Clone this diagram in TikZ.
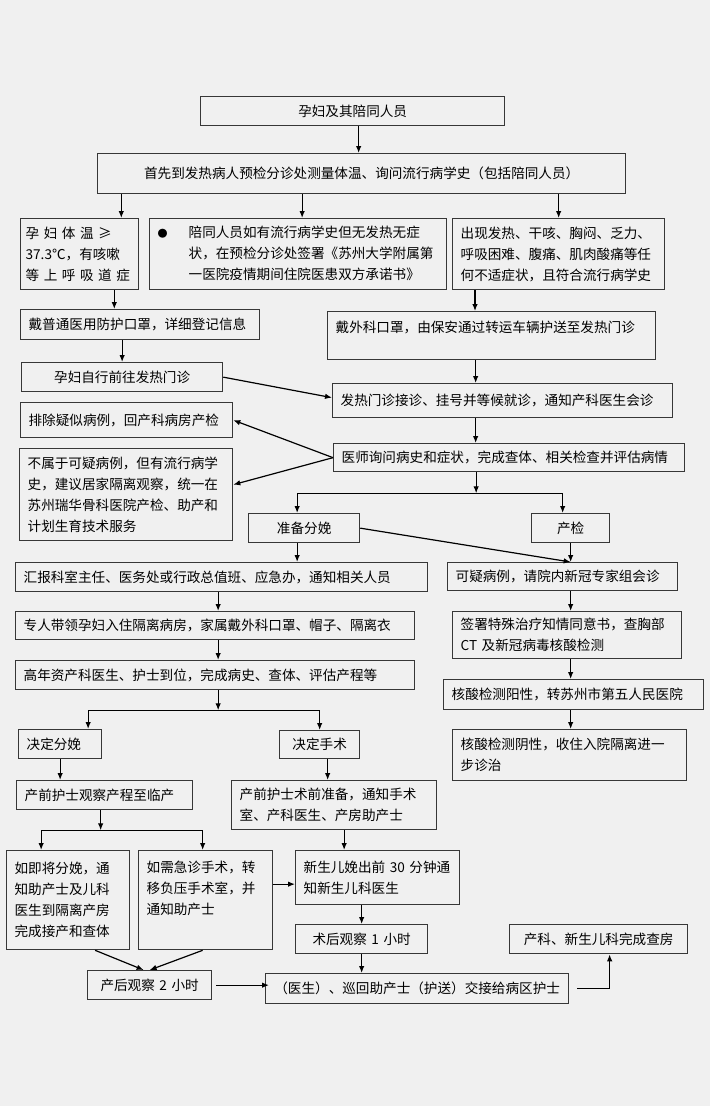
\documentclass[tikz,border=0pt]{standalone}
\usepackage{fontspec}
\setmainfont{Noto Sans CJK SC}
\usetikzlibrary{arrows.meta}

\definecolor{pagegray}{RGB}{240,240,240}
\definecolor{boxline}{RGB}{55,55,55}

\tikzstyle{stage}=[draw=boxline,line width=1.3pt,rectangle,anchor=north west,inner xsep=8pt,inner ysep=3pt,align=left]
\tikzstyle{flow}=[->,line width=1.2pt]

\begin{document}
\begin{tikzpicture}[x=1pt,y=-1pt,>={Latex[length=7pt,width=5.5pt]},
    every node/.style={font=\fontsize{13.6pt}{21pt}\selectfont}]
  \fill[pagegray] (0,0) rectangle (710,1106);

  \node (start)[stage,align=center,text width=288,minimum height=29] at (200,96) {孕妇及其陪同人员};
  \node (triage)[stage,align=center,text width=512,minimum height=40] at (97,153) {首先到发热病人预检分诊处测量体温、询问流行病学史（包括陪同人员）};
  \node (fever)[stage,inner xsep=5pt,text width=108,minimum height=71] at (20,218)
    {\makebox[\linewidth][s]{孕 妇 体 温 ≥}\\37.3℃，有咳嗽\\\makebox[\linewidth][s]{等 上 呼 吸 道 症}};
  \node (companion)[stage,text width=281,minimum height=71] at (149,218)
    {\begin{tabular}{@{}p{31pt}@{}l@{}}
      {\fontsize{10pt}{21pt}\selectfont ●} & 陪同人员如有流行病学史但无发热无症\\
        & 状，在预检分诊处签署《苏州大学附属第\\
        & 一医院疫情期间住院医患双方承诺书》
    \end{tabular}};
  \node (symptom)[stage,text width=196,minimum height=71] at (452,218)
    {出现发热、干咳、胸闷、乏力、\\呼吸困难、腹痛、肌肉酸痛等任\\何不适症状，且符合流行病学史};
  \node (mask)[stage,text width=223,minimum height=30] at (20,309) {戴普通医用防护口罩，详细登记信息};
  \node (surgmask)[stage,text width=312,minimum height=48,text depth=17] at (327,311) {戴外科口罩，由保安通过转运车辆护送至发热门诊};
  \node (self)[stage,align=center,text width=185,minimum height=29] at (21,362) {孕妇自行前往发热门诊};
  \node (clinic)[stage,text width=324,minimum height=34] at (332,383) {发热门诊接诊、挂号并等候就诊，通知产科医生会诊};
  \node (exclude)[stage,text width=196,minimum height=35] at (20,402) {排除疑似病例，回产科病房产检};
  \node (doctor)[stage,text width=335,minimum height=28] at (333,443) {医师询问病史和症状，完成查体、相关检查并评估病情};
  \node (home)[stage,text width=197,minimum height=92] at (19,448)
    {不属于可疑病例，但有流行病学\\史，建议居家隔离观察，统一在\\苏州瑞华骨科医院产检、助产和\\计划生育技术服务};
  \node (deliver)[stage,align=center,text width=95,minimum height=29] at (248,513) {准备分娩};
  \node (check)[stage,align=center,text width=62,minimum height=29] at (531,513) {产检};
  \node (report)[stage,text width=396,minimum height=29] at (15,562) {汇报科室主任、医务处或行政总值班、应急办，通知相关人员};
  \node (suspect)[stage,text width=214,minimum height=28] at (447,562) {可疑病例，请院内新冠专家组会诊};
  \node (isolate)[stage,text width=383,minimum height=28] at (15,611) {专人带领孕妇入住隔离病房，家属戴外科口罩、帽子、隔离衣};
  \node (consent)[stage,text width=213,minimum height=47] at (452,611) {签署特殊治疗知情同意书，查胸部\\CT 及新冠病毒核酸检测};
  \node (senior)[stage,text width=383,minimum height=29] at (15,660) {高年资产科医生、护士到位，完成病史、查体、评估产程等};
  \node (positive)[stage,text width=244,minimum height=30] at (443,679) {核酸检测阳性，转苏州市第五人民医院};
  \node (labour)[stage,text width=67,minimum height=29] at (18,729) {决定分娩};
  \node (surgery)[stage,align=center,text width=64,minimum height=28] at (279,730) {决定手术};
  \node (negative)[stage,text width=218,minimum height=51] at (452,729) {核酸检测阴性，收住入院隔离进一\\步诊治};
  \node (watch)[stage,text width=160,minimum height=29] at (16,780) {产前护士观察产程至临产};
  \node (preop)[stage,text width=189,minimum height=49] at (231,780) {产前护士术前准备，通知手术\\室、产科医生、产房助产士};
  \node (imminent)[stage,text width=107,minimum height=99] at (6,850)
    {如即将分娩，通\\知助产士及儿科\\医生到隔离产房\\完成接产和查体};
  \node (emergency)[stage,text width=118,minimum height=99,text depth=66] at (138,850)
    {如需急诊手术，转\\移负压手术室，并\\通知助产士};
  \node (neonate)[stage,text width=148,minimum height=54] at (295,850) {新生儿娩出前 30 分钟通\\知新生儿科医生};
  \node (postop)[stage,align=center,text width=116,minimum height=29] at (295,924) {术后观察 1 小时};
  \node (round)[stage,align=center,text width=162,minimum height=29] at (509,924) {产科、新生儿科完成查房};
  \node (postpartum)[stage,align=center,text width=108,minimum height=29] at (87,970) {产后观察 2 小时};
  \node (handover)[stage,align=center,inner xsep=6pt,text width=291,minimum height=30] at (265,973) {（医生）、巡回助产士（护送）交接给病区护士};

  \draw[flow] ([xshift=6pt]start.south) -- ([xshift=6pt]start.south |- triage.north);
  \draw[flow] ([xshift=-18pt]fever.north east |- triage.south) -- ([xshift=-18pt]fever.north east);
  \draw[flow] ([xshift=4pt]companion.north |- triage.south) -- ([xshift=4pt]companion.north);
  \draw[flow] (symptom.north |- triage.south) -- (symptom.north);
  \draw[flow] ([xshift=-25pt]fever.south east) -- ([xshift=-25pt]fever.south east |- mask.north);
  \draw[flow] ([xshift=23pt]symptom.south west) -- ([xshift=23pt]symptom.south west |- surgmask.north);
  \draw[flow] (self.north |- mask.south) -- (self.north);
  \draw[flow] ([xshift=-27pt]clinic.north |- surgmask.south) -- ([xshift=-27pt]clinic.north);
  \draw[flow] (self.east) -- ([yshift=3pt]clinic.west);
  \draw[flow] ([xshift=-27pt]clinic.south) -- ([xshift=-27pt]clinic.south |- doctor.north);
  \draw[flow] (doctor.west) -- (exclude.east);
  \draw[flow] (doctor.west) -- ([yshift=10pt]home.east);

  \draw[flow] ([xshift=-33pt]doctor.south) -- ++(0,21) coordinate (fork1);
  \draw[flow] (fork1) -| ([xshift=-7pt]deliver.north);
  \draw[flow] (fork1) -| ([xshift=-8pt]check.north);
  \draw[flow] (deliver.east) -- (check.south |- suspect.north);
  \draw[flow] (check.south) -- (check.south |- suspect.north);
  \draw[flow] ([xshift=-7pt]deliver.south) -- ([xshift=-7pt]deliver.south |- report.north);
  \draw[flow] ([xshift=3pt]isolate.north |- report.south) -- ([xshift=3pt]isolate.north);
  \draw[flow] ([xshift=3pt]isolate.south) -- ([xshift=3pt]senior.north);
  \draw[flow] (check.south |- suspect.south) -- (check.south |- consent.north);
  \draw[flow] (check.south |- consent.south) -- (check.south |- positive.north);
  \draw[flow] (check.south |- positive.south) -- (check.south |- negative.north);

  \draw[flow] ([xshift=3pt]senior.south) -- ++(0,20) coordinate (fork2);
  \draw[flow] (fork2) -| ([xshift=28pt]labour.north);
  \draw[flow] (fork2) -| (surgery.north);
  \draw[flow] (labour.south) -- (labour.south |- watch.north);
  \draw[flow] ([xshift=8pt]surgery.south) -- ([xshift=8pt]surgery.south |- preop.north);

  \draw[flow] ([xshift=-4pt]watch.south) -- ++(0,20) coordinate (fork3);
  \draw[flow] (fork3) -| ([xshift=-27pt]imminent.north);
  \draw[flow] (fork3) -| ([xshift=-3pt]emergency.north);
  \draw[flow] ([xshift=10pt]preop.south) -- ([xshift=10pt]preop.south |- neonate.north);
  \draw[flow] ([yshift=16pt]emergency.east) -- ([yshift=16pt]emergency.east -| neonate.west);
  \draw[flow] (postop.north |- neonate.south) -- (postop.north);
  \draw[flow] (postop.south) -- (postop.south |- handover.north);
  \draw[flow] ([xshift=27pt]imminent.south) -- ([xshift=-6pt]postpartum.north);
  \draw[flow] ([xshift=-3pt]emergency.south) -- (postpartum.north);
  \draw[flow] ([xshift=4pt]postpartum.east) -- ([xshift=4pt]postpartum.east -| handover.west);
  \draw[flow] ([xshift=8pt]handover.east) -| ([xshift=11pt]round.south);
\end{tikzpicture}
\end{document}
